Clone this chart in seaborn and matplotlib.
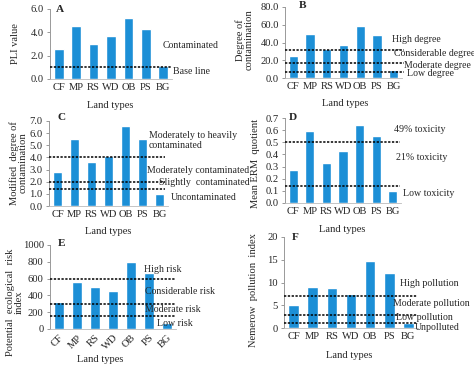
import matplotlib
matplotlib.use("Agg")
import matplotlib.pyplot as plt
import seaborn as sns
import pandas as pd
import numpy as np

sns.set_theme(style="white")
plt.rcParams['font.family'] = ['Liberation Serif', 'DejaVu Serif']

land_types = ["CF", "MP", "RS", "WD", "OB", "PS", "BG"]

pli = [2.6, 4.5, 3.0, 3.7, 5.2, 4.3, 1.1]
cd = [25, 50, 33, 37, 59, 49, 9]
mcd = [2.8, 5.55, 3.65, 4.1, 6.55, 5.5, 1.0]
merm = [0.27, 0.59, 0.33, 0.43, 0.64, 0.55, 0.10]
peri = [320, 560, 495, 450, 800, 670, 75]
npi = [5.1, 9.0, 8.8, 7.5, 14.7, 12.1, 1.0]

pli_lines = [1.0]
cd_lines = [31, 17, 7]
mcd_lines = [4.0, 2.0, 1.4]
merm_lines = [0.5, 0.14]
peri_lines = [600, 300, 150]
npi_lines = [7.0, 2.8, 1.0]

W, H = 474, 369
fig = plt.figure(figsize=(W / 100, H / 100), dpi=100)
fig.patch.set_facecolor("white")
BAR = "#1c8fd6"
FS = 7.6
AFS = 7.1


def px_axes(x0, x1, y0, y1):
    return fig.add_axes([x0 / W, 1 - y1 / H, (x1 - x0) / W, (y1 - y0) / H])


def ftext(x, y, s, **kw):
    kw.setdefault("fontsize", FS)
    kw.setdefault("va", "center")
    fig.text(x / W, 1 - y / H, s, **kw)


def panel(box, vals, ylim, step, fmt, lines, line_end, letter, letter_xy,
          rot=0):
    ax = px_axes(*box)
    df = pd.DataFrame({"Land": land_types, "Value": vals})
    sns.barplot(data=df, x="Land", y="Value", color=BAR, width=0.55,
                saturation=1, ax=ax)
    ax.set_ylim(*ylim)
    ticks = np.arange(ylim[0], ylim[1] + step / 2, step)
    ax.set_yticks(ticks)
    ax.set_yticklabels([fmt.format(t) for t in ticks], fontsize=FS)
    ax.set_xlabel("")
    ax.set_ylabel("")
    if rot:
        ax.set_xticks(range(len(land_types)))
        ax.set_xticklabels(land_types, rotation=rot, ha="right",
                           rotation_mode="anchor", fontsize=FS)
    else:
        ax.tick_params(axis="x", labelsize=FS)
    ax.tick_params(axis="y", length=2.5, width=0.6, color="#888888", pad=2,
                   left=True)
    ax.tick_params(axis="x", length=0, pad=3)
    for s in ["top", "right"]:
        ax.spines[s].set_visible(False)
    ax.spines["left"].set_color("#999999")
    ax.spines["left"].set_linewidth(0.7)
    ax.spines["bottom"].set_color("#bbbbbb")
    ax.spines["bottom"].set_linewidth(0.6)
    ax.set_facecolor("white")
    x0, x1 = box[0], box[1]
    frac = (line_end - x0) / (x1 - x0)
    for v in lines:
        ax.axhline(v, xmin=0, xmax=frac, color="black", lw=1.1,
                   ls=(0, (1.5, 1)), clip_on=False, zorder=3)
    ftext(letter_xy[0], letter_xy[1], letter, fontweight="bold",
          fontsize=FS + 0.5)
    return ax


panel((50, 172, 9, 79), pli, (0, 6), 2, "{:.1f}", pli_lines, 172, "A", (56, 10))
panel((285, 402, 7, 78), cd, (0, 80), 20, "{:.1f}", cd_lines, 404, "B", (299, 6))
panel((49, 168, 121, 206), mcd, (0, 7), 1, "{:.1f}", mcd_lines, 165, "C", (58, 118))
panel((285, 401, 118, 203), merm, (0, 0.7), 0.1, "{:.1f}", merm_lines, 400, "D", (289, 117))
panel((50, 176, 245, 329), peri, (0, 1000), 200, "{:.0f}", peri_lines, 175, "E", (58, 243), rot=45)
panel((284, 418, 237, 328), npi, (0, 20), 5, "{:.0f}", npi_lines, 417, "F", (292, 238))

# x labels
for x, y in [(110, 106), (345, 104), (108, 232), (342, 229), (100, 359), (349, 355)]:
    ftext(x, y, "Land types", ha="center")

# y labels
ftext(15, 44, "PLI value", rotation=90, ha="center")
ftext(244, 40, "Degree of\ncontamination", rotation=90, ha="center",
      linespacing=0.95, multialignment="center")
ftext(18, 163, "Modified  degree of\ncontamination", rotation=90, ha="center",
      linespacing=0.95, multialignment="center")
ftext(255, 163, "Mean ERM  quotient", rotation=90, ha="center")
ftext(15, 302, "Potential  ecological  risk\nindex", rotation=90, ha="center",
      linespacing=0.95, multialignment="center")
ftext(254, 290, "Nemerow  pollution  index", rotation=90, ha="center")

# annotations
ann = [
    (163, 46, "Contaminated"), (173, 71, "Base line"),
    (392, 40, "High degree"), (394, 54, "Considerable degree"),
    (404, 66, "Moderate degree"), (407, 74, "Low degree"),
    (149, 135, "Moderately to heavily"), (149, 145, "contaminated"),
    (147, 170, "Moderately contaminated"), (159, 183, "Slightly  contaminated"),
    (171, 197, "Uncontaminated"),
    (394, 129, "49% toxicity"), (396, 158, "21% toxicity"),
    (403, 194, "Low toxicity"),
    (144, 269, "High risk"), (145, 291, "Considerable risk"),
    (145, 310, "Moderate risk"), (157, 324, "Low risk"),
    (400, 283, "High pollution"), (393, 303, "Moderate pollution"),
    (396, 317, "Low pollution"), (415, 328, "Unpolluted"),
]
for x, y, s in ann:
    ftext(x, y, s, ha="left", fontsize=AFS)

fig.savefig("out.png", dpi=100, facecolor="white")
